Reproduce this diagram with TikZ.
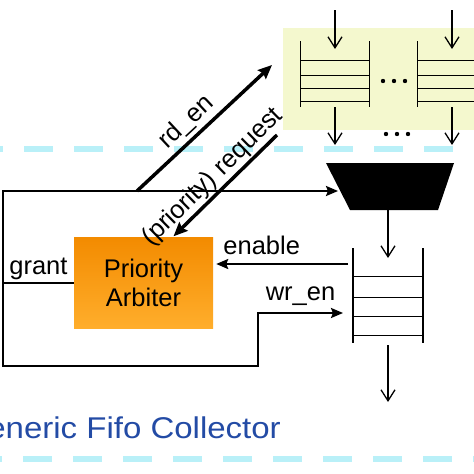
\documentclass[tikz,border=0pt]{standalone}
\usepackage{fontspec}
\setmainfont{Liberation Sans}
\newfontfamily\titlefont[FakeStretch=1.1]{Liberation Sans}
\usetikzlibrary{calc,arrows.meta}
\definecolor{bankbg}{RGB}{244,248,206}
\definecolor{sepcyan}{RGB}{185,240,248}
\definecolor{arbtop}{RGB}{243,139,0}
\definecolor{arbbot}{RGB}{255,174,44}
\definecolor{titleblue}{RGB}{35,75,165}
\newcommand\lblsize{\fontsize{25.5}{29}\selectfont}

\begin{document}
\begin{tikzpicture}[x=1pt,y=-1pt,
        wire/.style={line width=2.2pt},
        conn/.style={line width=2.2pt,-{Stealth[length=12pt,width=10pt,inset=2pt]}},
        bold/.style={line width=3.5pt,-{Stealth[length=14pt,width=12pt,inset=2pt]}},
        flow/.style={line width=1.3pt,-{Straight Barb[length=11pt,width=14pt]}},
        fifo/.style={minimum width=69pt,inner sep=0pt,outer sep=0pt},
        sep/.style={line width=6pt,draw=sepcyan,dash pattern=on 29pt off 21pt},
        lbl/.style={font=\lblsize,inner sep=1pt}]
        \useasboundingbox (0,0) rectangle (474,474);
        % separators
        \draw[sep] (-26,149) -- (500,149);
        \draw[sep] (-27,459) -- (500,459);
        % input fifos
        \node (bank) [fill=bankbg,minimum width=200pt,minimum height=102pt,inner sep=0pt,anchor=north west] at (283,28) {};
        \node (fifoA) [fifo,minimum height=66pt] at (335,74) {};
        \node (fifoB) [fifo,minimum height=66pt] at (452,74) {};
        \node (fifoC) [fifo,minimum width=70pt,minimum height=95pt] at (388,295.5) {};
        \foreach \f in {fifoA,fifoB,fifoC} {
            \draw[line width=1.3pt] (\f.north west) -- (\f.south west);
            \draw[line width=1.3pt] (\f.north east) -- (\f.south east);
            \foreach \t in {0.3,0.52,0.72,0.92}
                \draw[line width=1.3pt] ($(\f.north west)!\t!(\f.south west)$) -- ($(\f.north east)!\t!(\f.south east)$);
        }
        \foreach \x/\y in {383/81,394/81,405/81,386/134,397/134,408/134}
            \fill (\x,\y) circle [radius=2.2];
        \coordinate (inA) at (335,10);
        \coordinate (inB) at (452,10);
        \coordinate (outA) at (335,145);
        \coordinate (outB) at (452,145);
        \draw[flow] (inA) -- ([yshift=-8pt]fifoA.north);
        \draw[flow] (inB) -- ([yshift=-8pt]fifoB.north);
        \draw[flow] (fifoA.south) -- (outA);
        \draw[flow] (fifoB.south) -- (outB);
        % mux
        \fill (326,163) -- (454,163) -- (438,210) -- (350,210) -- cycle;
        \coordinate (muxin) at (338,191);
        \coordinate (muxout) at (388,210);
        \coordinate (outC) at (388,402);
        \draw[flow] (muxout) -- ([yshift=-10pt]fifoC.north);
        \draw[flow] ([yshift=-2pt]fifoC.south) -- (outC);
        % arbiter
        \node (arb) [minimum width=139pt,minimum height=91pt,top color=arbtop,bottom color=arbbot,
            font=\lblsize,align=center,inner sep=0pt] at (143.5,283) {Priority\\Arbiter};
        \coordinate (jG) at (3,283);
        \coordinate (kW) at (258,366);
        \coordinate (wrin) at (343,313);
        \coordinate (enout) at (348,264);
        \draw[wire] (arb.west) -- node[lbl,above=1pt] {grant} (jG);
        \draw[conn] (jG) |- (muxin);
        \draw[conn] (jG) |- (kW) |- node[lbl,pos=0.75,above=5pt] {wr\_en} (wrin);
        \draw[conn,shorten >=3pt] (enout) -- node[lbl,pos=0.64,above=7pt] {enable} (arb.east |- enout);
        % rd_en and request
        \coordinate (rdsrc) at (137,191);
        \coordinate (rdtip) at (272,65);
        \coordinate (rqsrc) at (277,135);
        \draw[bold] (rdsrc) -- node[lbl,sloped,pos=0.45,above=3pt,inner sep=0pt] {rd\_en} (rdtip);
        \draw[bold] (rqsrc) -- node[lbl,sloped,pos=0.52,above=1pt,inner sep=0pt] {(priority) request} ([xshift=30pt,yshift=1pt]arb.north);
        % title
        \node (title) [anchor=base east,inner sep=0pt,text=titleblue,font=\titlefont\fontsize{30}{32}\selectfont] at (281,438) {Generic Fifo Collector};
    \end{tikzpicture}
\end{document}
